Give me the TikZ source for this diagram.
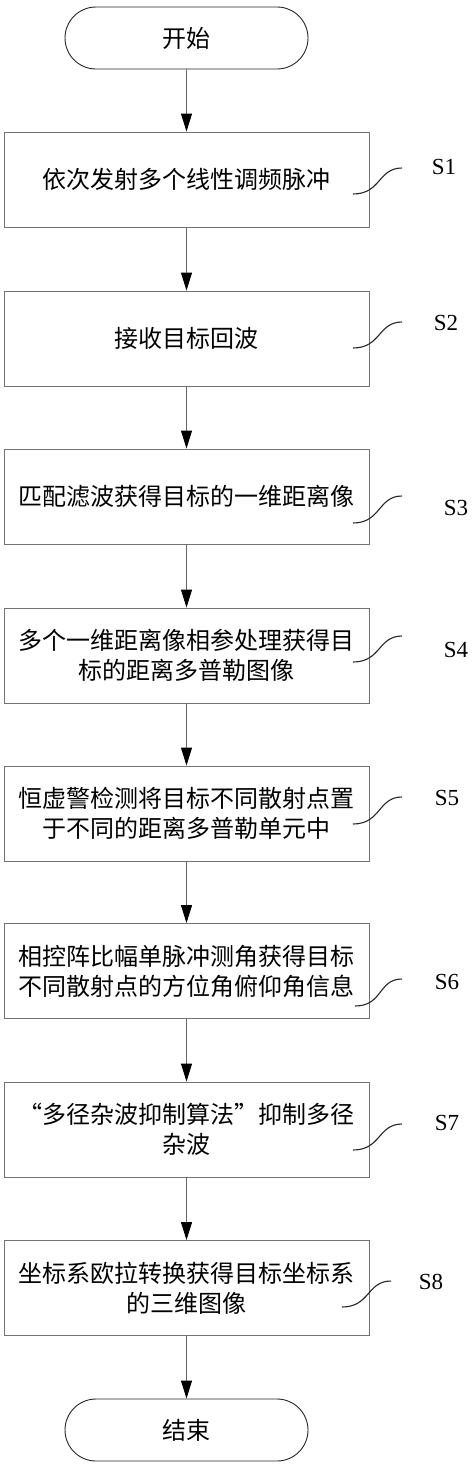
\documentclass[tikz,border=0pt]{standalone}
\usepackage{fontspec}
\setmainfont{Liberation Serif}
\newfontfamily\cjk{Noto Sans CJK SC}
\usepackage{tikz}
\usetikzlibrary{arrows.meta}
\usetikzlibrary{shapes.misc}

\begin{document}
\begin{tikzpicture}[x=1pt, y=-1pt, stepbox/.style={rectangle, draw=black!55, line width=0.9pt, minimum width=365pt, minimum height=95pt, inner sep=0pt, align=center, font=\cjk\fontsize{24}{30}\selectfont}]
    \tikzset{term/.style={rounded rectangle, draw=black!85, line width=0.9pt, minimum width=243pt, minimum height=62pt, inner sep=0pt, font=\cjk\fontsize{24}{30}\selectfont}}
    \tikzset{lbl/.style={inner sep=0pt, font=\fontsize{23}{23}\selectfont}}
    \tikzset{flow/.style={draw=black!60, line width=0.9pt, -{Triangle[length=18pt, width=11pt, color=black]}}}
    \tikzset{lead/.style={line width=1.1pt, black!85}}
    \useasboundingbox (0,0) rectangle (474,1468);
    \def \cx {186.5}

    \node[term] (start) at (\cx,38) {开始};
    \node[stepbox] (s1) at (\cx,179.5) {依次发射多个线性调频脉冲};
    \node[stepbox] (s2) at (\cx,338.5) {接收目标回波};
    \node[stepbox] (s3) at (\cx,496.5) {匹配滤波获得目标的一维距离像};
    \node[stepbox] (s4) at (\cx,655.5) {多个一维距离像相参处理获得目\\标的距离多普勒图像};
    \node[stepbox] (s5) at (\cx,813.5) {恒虚警检测将目标不同散射点置\\于不同的距离多普勒单元中};
    \node[stepbox] (s6) at (\cx,971) {相控阵比幅单脉冲测角获得目标\\不同散射点的方位角俯仰角信息};
    \node[stepbox] (s7) at (\cx,1129.5) {“多径杂波抑制算法”抑制多径\\杂波};
    \node[stepbox] (s8) at (\cx,1288) {坐标系欧拉转换获得目标坐标系\\的三维图像};
    \node[term] (stop) at (\cx,1430) {结束};

    \foreach \a/\b in {start/s1, s1/s2, s2/s3, s3/s4, s4/s5, s5/s6, s6/s7, s7/s8, s8/stop} {
    \draw[flow] (\a) -- (\b);
    }

    % step labels
    \node[lbl] (l1) at (444,167) {S1};
    \node[lbl] (l2) at (446,323) {S2};
    \node[lbl] (l3) at (456,508) {S3};
    \node[lbl] (l4) at (456,650) {S4};
    \node[lbl] (l5) at (447,798) {S5};
    \node[lbl] (l6) at (447,982) {S6};
    \node[lbl] (l7) at (447,1123) {S7};
    \node[lbl] (l8) at (431,1282) {S8};

    \coordinate (q1a) at (353,194);  \coordinate (q1b) at (402,168);
    \coordinate (q2a) at (353,348);  \coordinate (q2b) at (402,322);
    \coordinate (q3a) at (353,523);  \coordinate (q3b) at (402,496);
    \coordinate (q4a) at (353,662);  \coordinate (q4b) at (402,636);
    \coordinate (q5a) at (353,824);  \coordinate (q5b) at (402,797);
    \coordinate (q6a) at (355,1006); \coordinate (q6b) at (402,979);
    \coordinate (q7a) at (353,1150); \coordinate (q7b) at (402,1124);
    \coordinate (q8a) at (342,1307); \coordinate (q8b) at (391,1281);

    \foreach \i in {1,...,8} {
    \draw[lead] (q\i a) .. controls +(28,0) and +(-24,0) .. (q\i b);
    }
\end{tikzpicture}
\end{document}
